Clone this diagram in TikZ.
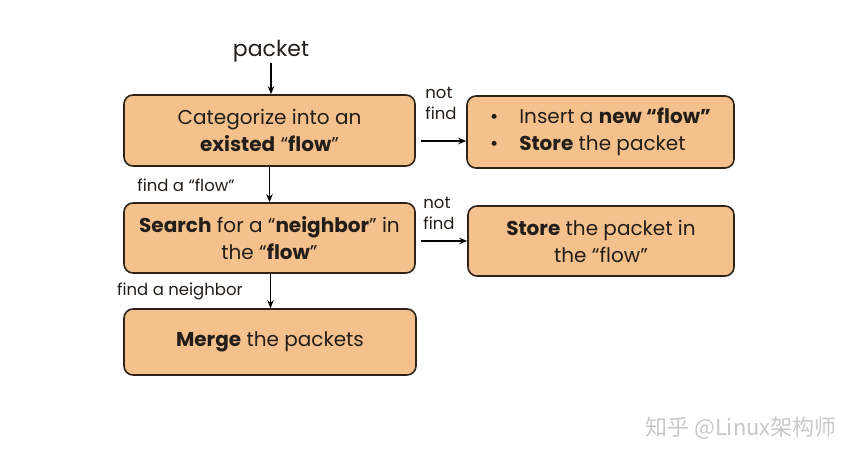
\documentclass[tikz,border=0pt]{standalone}
\usepackage{fontspec}
\setmainfont{Poppins}
\newfontfamily\cjk{Noto Sans CJK SC}
\usetikzlibrary{arrows.meta}
\definecolor{boxfill}{RGB}{244,192,140}
\definecolor{boxline}{RGB}{45,35,25}
\definecolor{txt}{RGB}{35,30,25}
\tikzset{
  box/.style={draw=boxline, line width=1.6pt, fill=boxfill, rounded corners=9pt,
    minimum width=291pt, minimum height=71pt, align=center, text=txt,
    font=\fontsize{20}{27}\selectfont, inner sep=2pt},
  arr/.style={-{Stealth[length=8pt,width=6.5pt]}, line width=1.3pt, draw=black},
  lab/.style={font=\fontsize{16.5}{21}\selectfont, text=txt, inner sep=0pt, align=left}
}
\begin{document}
\begin{tikzpicture}[x=1pt,y=-1pt]
\useasboundingbox (0,0) rectangle (860,462);
\node[font=\fontsize{22}{26}\selectfont, text=txt, inner sep=1pt] (pk) at (271,51) {packet};
\node[box] (b1) at (269.5,130.5) {Categorize into an\\\textbf{existed} “\textbf{flow}”};
\node[box, minimum width=267pt, minimum height=72pt, align=left] (b2) at (600.5,132)
  {\textbullet\hspace{1.05em}Insert a \textbf{new “flow”}\\\textbullet\hspace{1.05em}\textbf{Store} the packet};
\node[box, minimum height=70pt] (b3) at (269.5,238) {\textbf{Search} for a “\textbf{neighbor}” in\\the “\textbf{flow}”};
\node[box, minimum width=266pt, minimum height=70pt] (b4) at (601,241) {\textbf{Store} the packet in\\the “flow”};
\node[box, minimum width=292pt, minimum height=66pt] (b5) at (270,342) {\textbf{Merge} the packets};
\draw[arr] (pk.south) -- (b1.north -| pk.south);
\draw[arr] ([yshift=-10.5pt]b1.east) ++(5,0) coordinate (s1) -- (s1 -| b2.west);
\draw[arr] (b1.south) -- (b3.north);
\draw[arr] ([yshift=-3pt]b3.east) ++(5,0) coordinate (s2) -- (s2 -| b4.west);
\draw[arr] ([xshift=1pt]b3.south) -- ([xshift=1pt]b3.south |- b5.north);
\node[lab] (l1) at (441,103) {not\\find};
\node[lab] (l2) at (439,213.5) {not\\find};
\node[lab] (l3) at (186,185) {find a “flow”};
\node[lab] (l4) at (180,291) {find a neighbor};
\node[font=\cjk\fontsize{22}{26}\selectfont, text={rgb,255:red,200;green,200;blue,200}, inner sep=0pt] (wm) at (741,428) {知乎 @Linux架构师};
\end{tikzpicture}
\end{document}
